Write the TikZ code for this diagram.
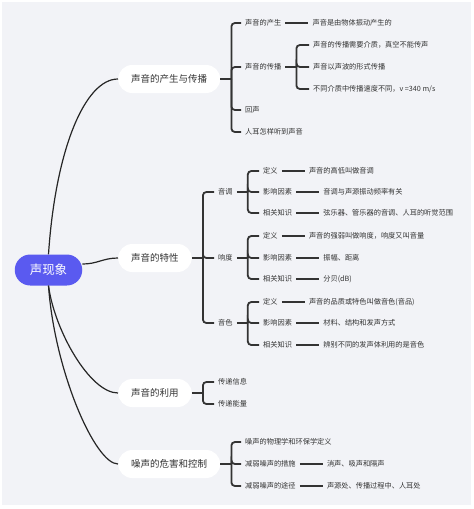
\documentclass[tikz,border=0pt]{standalone}
\usepackage{fontspec}
\setmainfont{Noto Sans CJK SC}
\usetikzlibrary{positioning}
\definecolor{rootblue}{RGB}{90,90,240}
\definecolor{bggray}{RGB}{242,243,247}
\definecolor{inkgray}{RGB}{51,51,51}

\begin{document}
\begin{tikzpicture}[x=1pt, y=-1pt,
    root/.style={fill=rootblue, text=white, rounded corners=15.5pt, minimum height=31pt, inner xsep=15pt, font=\fontsize{12.5}{14}\selectfont},
    topic/.style={fill=white, text=inkgray, rounded corners=14pt, minimum height=28pt, inner xsep=13pt, anchor=west, font=\fontsize{9.5}{11}\selectfont},
    item/.style={text=inkgray, inner xsep=4pt, inner ysep=1pt, anchor=west, font=\fontsize{7.2}{8}\selectfont},
    branch/.style={draw=inkgray, line width=1.8pt, rounded corners=3.5pt},
    curve/.style={draw=black!85, line width=1.2pt}
]

\useasboundingbox (0,0) rectangle (474,509);
\fill[white] (0,0) rectangle (474,509);
\fill[bggray] (2,2) rectangle (471,505);

\node[root] (root) at (48.5,270) {声现象};
\node[topic] (birth) at (118,79) {声音的产生与传播};
\node[topic] (trait) at (118,258) {声音的特性};
\node[topic] (use) at (118,393) {声音的利用};
\node[topic] (noise) at (118,464) {噪声的危害和控制};

% Production and propagation
\node[item] (make) at (241,23) {声音的产生};
\node[item, right=23pt of make] (makeA) {声音是由物体振动产生的};
\node[item] (spread) at (241,67) {声音的传播};
\node[item] (spreadA) at (309,45) {声音的传播需要介质，真空不能传声};
\node[item] (spreadB) at (309,67) {声音以声波的形式传播};
\node[item] (spreadC) at (309,89) {不同介质中传播速度不同，v =340 m/s};
\node[item] (echo) at (241,110) {回声};
\node[item] (hear) at (241,132) {人耳怎样听到声音};

% Characteristics
\node[item] (pitch) at (214,192) {音调};
\node[item] (pitchD) at (259,171) {定义};
\node[item, right=23pt of pitchD] (pitchDA) {声音的高低叫做音调};
\node[item] (pitchF) at (259,192) {影响因素};
\node[item, right=23pt of pitchF] (pitchFA) {音调与声源振动频率有关};
\node[item] (pitchR) at (259,213) {相关知识};
\node[item, right=23pt of pitchR] (pitchRA) {弦乐器、管乐器的音调、人耳的听觉范围};

\node[item] (loud) at (214,258) {响度};
\node[item] (loudD) at (259,236) {定义};
\node[item, right=23pt of loudD] (loudDA) {声音的强弱叫做响度，响度又叫音量};
\node[item] (loudF) at (259,258) {影响因素};
\node[item, right=23pt of loudF] (loudFA) {振幅、距离};
\node[item] (loudR) at (259,279) {相关知识};
\node[item, right=23pt of loudR] (loudRA) {分贝(dB)};

\node[item] (timbre) at (214,323) {音色};
\node[item] (timbreD) at (259,302) {定义};
\node[item, right=23pt of timbreD] (timbreDA) {声音的品质或特色叫做音色(音品)};
\node[item] (timbreF) at (259,323) {影响因素};
\node[item, right=23pt of timbreF] (timbreFA) {材料、结构和发声方式};
\node[item] (timbreR) at (259,345) {相关知识};
\node[item, right=23pt of timbreR] (timbreRA) {辨别不同的发声体利用的是音色};

% Uses
\node[item] (info) at (214,382) {传递信息};
\node[item] (energy) at (214,404) {传递能量};

% Noise
\node[item] (define) at (241,442) {噪声的物理学和环保学定义};
\node[item] (means) at (241,464) {减弱噪声的措施};
\node[item, right=23pt of means] (meansA) {消声、吸声和隔声};
\node[item] (ways) at (241,486) {减弱噪声的途径};
\node[item, right=23pt of ways] (waysA) {声源处、传播过程中、人耳处};

% Curves from the root
\draw[curve] (root.north) .. controls +(7,-105) and +(-33,0) .. (birth.west);
\draw[curve] (root.10) .. controls +(15,0) and +(-15,0) .. (trait.west);
\draw[curve] (root.south) .. controls +(6,45) and +(-28,0) .. (use.west);
\draw[curve] (root.south) .. controls +(6,85) and +(-23,0) .. (noise.west);

% Brackets
\foreach \p/\kids in {birth/{make,spread,echo,hear}, spread/{spreadA,spreadB,spreadC},
    trait/{pitch,loud,timbre}, pitch/{pitchD,pitchF,pitchR}, loud/{loudD,loudF,loudR},
    timbre/{timbreD,timbreF,timbreR}, use/{info,energy}, noise/{define,means,ways}} {
    \coordinate (\p-j) at ([xshift=11pt]\p.east);
    \draw[branch] (\p.east) -- (\p-j);
    \foreach \c in \kids {
        \draw[branch] (\p-j) |- (\c.west);
    }
}

% Single links
\foreach \a/\b in {make/makeA, pitchD/pitchDA, pitchF/pitchFA, pitchR/pitchRA,
    loudD/loudDA, loudF/loudFA, loudR/loudRA, timbreD/timbreDA, timbreF/timbreFA,
    timbreR/timbreRA, means/meansA, ways/waysA} {
    \draw[branch] (\a.east) -- (\b.west);
}

\end{tikzpicture}
\end{document}
